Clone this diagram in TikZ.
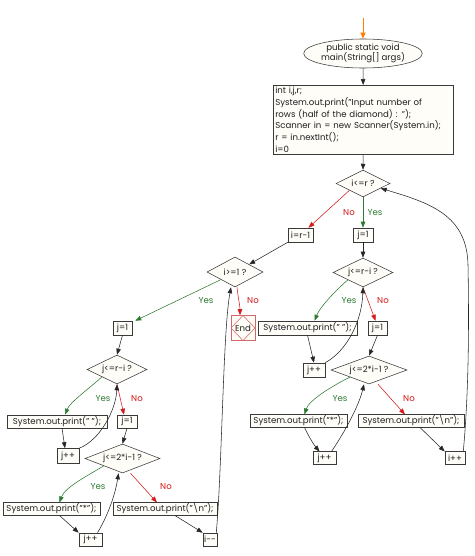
\documentclass[tikz,border=0pt]{standalone}
\usepackage{fontspec}
\setmainfont{Poppins}
\usetikzlibrary{shapes.geometric,arrows.meta,calc}
\definecolor{yesgreen}{HTML}{2E7A32}
\definecolor{nored}{HTML}{D41A1A}
\definecolor{endred}{HTML}{D06A6A}
\definecolor{nodefill}{HTML}{FFFDF8}
\definecolor{linegray}{HTML}{3A3A3A}
\definecolor{txtgray}{HTML}{1E1E1E}
\begin{document}
\begin{tikzpicture}[x=1pt,y=-1pt,
  txt/.style={font=\fontsize{8.6}{11.8}\selectfont, text=txtgray},
  box/.style={txt, draw=linegray, fill=nodefill, inner sep=1pt, line width=0.55pt},
  dec/.style={txt, diamond, aspect=2.6, draw=linegray, fill=nodefill, inner sep=0pt, line width=0.55pt},
  ell/.style={txt, ellipse, draw=linegray, fill=nodefill, inner sep=0pt, line width=0.55pt, align=center},
  endbox/.style={txt, draw=endred, fill=nodefill, minimum width=24, minimum height=25, inner sep=0pt, line width=0.55pt,
    path picture={\draw[endred, line width=0.55pt] (path picture bounding box.north) -- (path picture bounding box.east) -- (path picture bounding box.south) -- (path picture bounding box.west) -- cycle;}},
  flow/.style={draw=black!85, line width=0.55pt, -{Triangle[length=6pt,width=4.5pt]}},
  yesarr/.style={flow, draw=yesgreen},
  noarr/.style={flow, draw=nored},
  yeslbl/.style={font=\fontsize{8.6}{10}\selectfont, text=yesgreen},
  nolbl/.style={font=\fontsize{8.6}{10}\selectfont, text=nored}
]
\fill[white] (0,0) rectangle (474,556);
\useasboundingbox (0,0) rectangle (474,556);

% ---------- nodes ----------
\coordinate (entry) at (363,18);
\node[ell, minimum width=100, minimum height=29] (start) at (363,53.5) {public static void\\[-2.5pt]main(String[] args)};
\node[box, anchor=north west, minimum width=180, minimum height=69, text width=176pt, inner sep=1.5pt, align=left] (init) at (273,85)
  {int i,j,r;\\System.out.print("Input number of\\rows (half of the diamond) : ");\\Scanner in = new Scanner(System.in);\\r = in.nextInt();\\i=0};
\node[dec, minimum width=54, minimum height=27] (d1) at (363,183.5) {i<=r ?};

% right branch
\node[box, minimum width=25, minimum height=14] (irm) at (300.5,235) {i=r-1};
\node[box, minimum width=20, minimum height=14] (j1a) at (363,235) {j=1};
\node[dec, minimum width=60, minimum height=29] (d2) at (363,272.5) {j<=r-i ?};
\node[box, minimum width=99, minimum height=14] (pa) at (307.5,328) {System.out.print(" ");};
\node[box, minimum width=19, minimum height=14] (j1b) at (377.5,328) {j=1};
\node[box, minimum width=22, minimum height=14] (jpa) at (314,370) {j++};
\node[dec, minimum width=76, minimum height=28] (d3) at (369,370) {j<=2*i-1 ?};
\node[box, minimum width=97, minimum height=12.5] (ps) at (298.5,421) {System.out.print("*");};
\node[box, minimum width=106, minimum height=12.5] (pn) at (411,421) {System.out.print("\textbackslash n");};
\node[box, minimum width=23, minimum height=12.5] (jpb) at (324.5,458) {j++};
\node[box, minimum width=20, minimum height=12.5] (ipp) at (455,458) {i++};

% left branch
\node[dec, minimum width=56, minimum height=30] (d4) at (235,272) {i>=1 ?};
\node[box, minimum width=19, minimum height=14] (j1c) at (122.5,328) {j=1};
\node[endbox] (end) at (243,328) {End};
\node[dec, minimum width=60, minimum height=29] (d5) at (117,369.5) {j<=r-i ?};
\node[box, minimum width=100, minimum height=13] (pa2) at (57,421.5) {System.out.print(" ");};
\node[box, minimum width=20, minimum height=13] (j1d) at (127,421.5) {j=1};
\node[box, minimum width=22, minimum height=15] (jpc) at (68,456) {j++};
\node[dec, minimum width=75, minimum height=29] (d6) at (122.5,458.5) {j<=2*i-1 ?};
\node[box, minimum width=97, minimum height=12.5] (ps2) at (51.5,509) {System.out.print("*");};
\node[box, minimum width=104, minimum height=12.5] (pn2) at (165,509) {System.out.print("\textbackslash n");};
\node[box, minimum width=23, minimum height=13] (jpd) at (90.5,539.5) {j++};
\node[box, minimum width=14, minimum height=13] (imm) at (210,539.5) {i-{}-};

% ---------- connectors ----------
\draw[draw=orange, line width=1pt, -{Triangle[length=6pt,width=5pt]}] (entry) -- (start);
\draw[flow] (start) -- (init);
\draw[flow] (init) -- (d1);

\draw[noarr] (d1.south west) -- (irm);
\node[nolbl] at (349,213) {No};
\draw[yesarr] (d1.south) -- (j1a);
\node[yeslbl] at (375,213) {Yes};

\draw[flow] (j1a) -- (d2);
\draw[yesarr] (d2.south west) .. controls (336,290) and (320,307) .. ([xshift=7pt]pa.north);
\node[yeslbl] at (349,301) {Yes};
\draw[noarr] (d2.south) -- ([xshift=-2pt]j1b.north);
\node[nolbl] at (383,301) {No};
\draw[flow] (pa.south) -- (jpa.north);
\draw[flow] (jpa.north east) .. controls (348,350) and (362,320) .. (d2.south);

\draw[flow] (j1b.south) -- (d3.north);
\draw[yesarr] (d3.south west) .. controls (334,385) and (309,400) .. ([xshift=6pt]ps.north);
\node[yeslbl] at (340,399) {Yes};
\draw[noarr] ([xshift=9pt]d3.south) -- ([xshift=-6pt]pn.north);
\node[nolbl] at (409,399) {No};
\draw[flow] ([xshift=6pt]ps.south) .. controls (309,437) and (314,445) .. ([xshift=-5pt]jpb.north);
\draw[flow] ([xshift=7pt]jpb.north) .. controls (346,430) and (359,405) .. ([xshift=-5pt]d3.south);
\draw[flow] ([xshift=9pt]pn.south) -- (ipp.north west);
\draw[flow] ([xshift=-2pt]ipp.north east) .. controls (469,390) and (469,320) .. (468,265) .. controls (467,215) and (430,203) .. ($(d1.east)!0.35!(d1.south)$);

\draw[flow] (irm) -- (d4.north east);
\draw[yesarr] (d4.south west) -- ([xshift=3pt]j1c.north east);
\node[yeslbl] at (206,301) {Yes};
\draw[noarr] ([xshift=2pt]d4.south) .. controls (238,297) and (240,306) .. ([xshift=-3pt]end.north);
\node[nolbl] at (253,301) {No};

\draw[flow] (j1c.south) -- (d5.north);
\draw[yesarr] (d5.south west) .. controls (90,388) and (70,402) .. ([xshift=8pt]pa2.north);
\node[yeslbl] at (103,399) {Yes};
\draw[noarr] (d5.south) -- ([xshift=-3pt]j1d.north);
\node[nolbl] at (137,399) {No};
\draw[flow] ([xshift=5pt]pa2.south) -- ([xshift=-3pt]jpc.north);
\draw[flow] (jpc.north east) .. controls (100,440) and (116,410) .. (d5.south);

\draw[flow] (j1d.south) -- (d6.north);
\draw[yesarr] (d6.south west) .. controls (89,475) and (65,487) .. ([xshift=8pt]ps2.north);
\node[yeslbl] at (98,487) {Yes};
\draw[noarr] ([xshift=8pt]d6.south) -- ([xshift=-8pt]pn2.north);
\node[nolbl] at (166,487) {No};
\draw[flow] ([xshift=8pt]ps2.south) -- (jpd.north west);
\draw[flow] ([xshift=7pt]jpd.north) .. controls (110,512) and (116,490) .. ([xshift=-4pt]d6.south);
\draw[flow] ([xshift=10pt]pn2.south) -- (imm.north west);
\draw[flow] ([xshift=-1pt]imm.north east) .. controls (222,470) and (223,330) .. ([xshift=-4pt]d4.south);
\end{tikzpicture}
\end{document}
